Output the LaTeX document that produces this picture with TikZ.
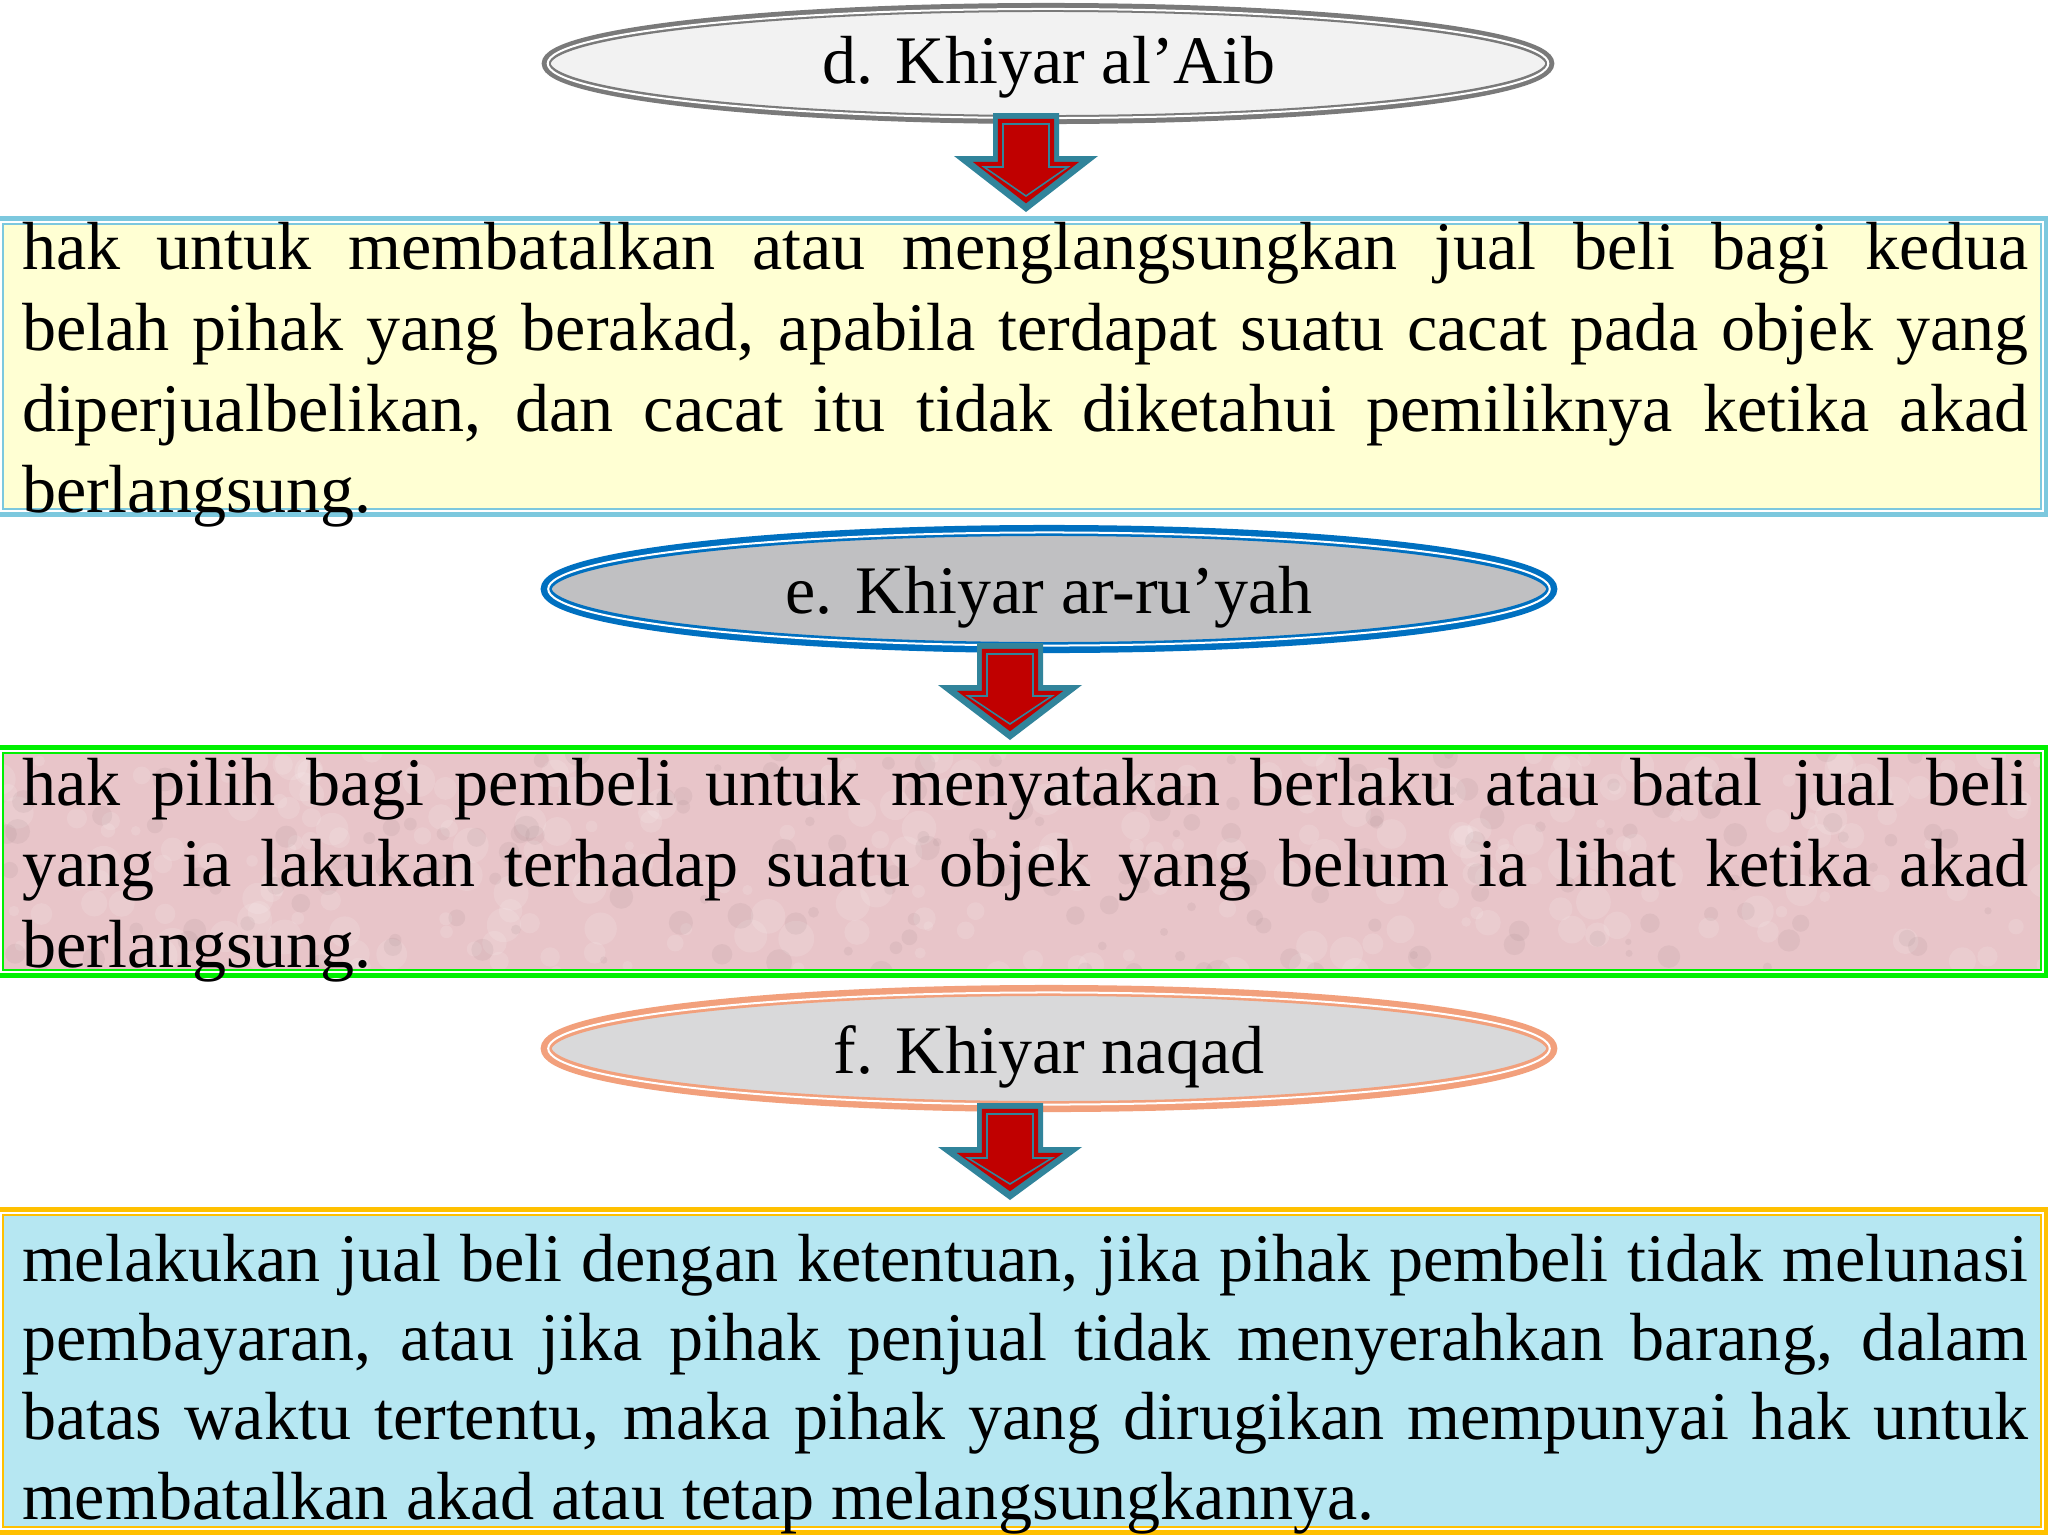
\documentclass[tikz,border=0pt]{standalone}
\usepackage{fontspec}
\setmainfont{Liberation Serif}
\usetikzlibrary{shapes.geometric}
\definecolor{arrteal}{HTML}{31849B}
\definecolor{arrred}{HTML}{C00000}
\definecolor{boxAline}{HTML}{7CC8DE}
\definecolor{boxAfill}{HTML}{FFFFD3}
\definecolor{boxBline}{HTML}{00F000}
\definecolor{boxBfill}{HTML}{E8C5C9}
\definecolor{boxCline}{HTML}{FFC000}
\definecolor{boxCfill}{HTML}{B6E7F2}
\definecolor{ellAline}{HTML}{7A7A7A}
\definecolor{ellAfill}{HTML}{F2F2F2}
\definecolor{ellBline}{HTML}{0070C0}
\definecolor{ellBfill}{HTML}{C0C0C2}
\definecolor{ellCline}{HTML}{F2A07C}
\definecolor{ellCfill}{HTML}{D9D9DA}
\tikzset{
  ellshape/.style={ellipse, inner sep=0pt, outer sep=0pt},
  boxshape/.style={rectangle, inner sep=0pt, outer sep=0pt, line width=2.56pt},
  ellthick/.style={line width=3.13pt},
  splitline/.style={white, line width=0.57pt},
  ellabel/.style={anchor=base, inner sep=0pt, font=\fontsize{19.35pt}{23pt}\selectfont},
  bodytext/.style={anchor=base west, inner sep=0pt, outer sep=0pt},
}
% block arrow: centre x, top y, y where the head starts, tip y
\newcommand\blockarr[4]{%
  \fill[arrteal] (#1-33,#2) -- (#1+33,#2) -- (#1+33,#3) -- (#1+72,#3) -- (#1,#4) -- (#1-72,#3) -- (#1-33,#3) -- cycle;
  \filldraw[fill=arrred, draw=arrred, line width=0.6pt] (#1-27,#2+7) -- (#1+27,#2+7) -- (#1+27,#3+7) -- (#1+50,#3+7) -- (#1,#4-10) -- (#1-50,#3+7) -- (#1-27,#3+7) -- cycle;
  \draw[arrteal, line width=0.45pt, line join=miter] (#1-23,#2+11) -- (#1+23,#2+11) -- (#1+23,#3+11) -- (#1+42,#3+11) -- (#1,#4-16) -- (#1-42,#3+11) -- (#1-23,#3+11) -- cycle;
}
\newcommand\jline[1]{\makebox[\linewidth][s]{#1}\\}
\begin{document}
\begin{tikzpicture}[x=0.01cm, y=-0.01cm]
\useasboundingbox (0,0) rectangle (2048,1536);
\fill[white] (0,0) rectangle (2048,1536);

% ---- ellipse d
\node[ellshape, draw=ellAline, fill=ellAfill, line width=2.56pt, minimum width=10.03cm, minimum height=1.12cm] (d) at (1048,63.5) {};
\draw[splitline] (d.center) ellipse [x radius=5.00cm, y radius=0.545cm];
\node[ellabel] (dl) at (1049,83) {d. Khiyar al’Aib};

% ---- box 1
\node[boxshape, draw=boxAline, fill=boxAfill, minimum width=20.43cm, minimum height=2.92cm] (b1) at (1022,366.5) {};
\draw[splitline] ([shift={(1.5,1.5)}]b1.north west) rectangle ([shift={(-1.5,-1.5)}]b1.south east);

% ---- ellipse e
\node[ellshape, draw=ellBline, fill=ellBfill, ellthick, minimum width=10.05cm, minimum height=1.17cm] (e) at (1049,589) {};
\draw[splitline] (e.center) ellipse [x radius=5.005cm, y radius=0.565cm];
\node[ellabel] (el) at (1049,613) {e. Khiyar ar-ru’yah};

% ---- box 2
\node[boxshape, draw=boxBline, fill=boxBfill, minimum width=20.43cm, minimum height=2.24cm] (b2) at (1022,861.5) {};
\begin{scope}
\clip (b2.north west) rectangle (b2.south east);
\pgfmathsetseed{7}
\foreach \k in {1,...,260}{
  \pgfmathsetmacro\px{rnd*2048}
  \pgfmathsetmacro\py{750+rnd*224}
  \pgfmathsetmacro\rr{4+rnd*14}
  \fill[white, opacity=0.12] (\px,\py) circle [radius=\rr*0.01cm];
}
\foreach \k in {1,...,180}{
  \pgfmathsetmacro\px{rnd*2048}
  \pgfmathsetmacro\py{750+rnd*224}
  \pgfmathsetmacro\rr{3+rnd*10}
  \fill[black!40!boxBfill, opacity=0.10] (\px,\py) circle [radius=\rr*0.01cm];
}
\end{scope}
\draw[boxBline, line width=2.56pt] (b2.north west) rectangle (b2.south east);
\draw[splitline] ([shift={(1.5,1.5)}]b2.north west) rectangle ([shift={(-1.5,-1.5)}]b2.south east);

% ---- ellipse f
\node[ellshape, draw=ellCline, fill=ellCfill, ellthick, minimum width=10.05cm, minimum height=1.16cm] (f) at (1049,1048.5) {};
\draw[splitline] (f.center) ellipse [x radius=5.005cm, y radius=0.56cm];
\node[ellabel] (fl) at (1049,1073) {f. Khiyar naqad};

% ---- box 3
\node[boxshape, draw=boxCline, fill=boxCfill, minimum width=20.43cm, minimum height=3.19cm] (b3) at (1022,1371) {};
\draw[splitline] ([shift={(1.5,1.5)}]b3.north west) rectangle ([shift={(-1.5,-1.5)}]b3.south east);

% ---- block arrows (ellipse -> box)
\blockarr{1026}{113}{156}{212}
\blockarr{1010}{643}{685}{740}
\blockarr{1010}{1103}{1147}{1200}

% ---- texts
\node[bodytext] (t1) at (22,269) {\parbox[t]{20.05cm}{\fontsize{19.37pt}{23.1pt}\selectfont
\jline{hak untuk membatalkan atau menglangsungkan jual beli bagi kedua}
\jline{belah pihak yang berakad, apabila terdapat suatu cacat pada objek yang}
\jline{diperjualbelikan, dan cacat itu tidak diketahui pemiliknya ketika akad}
berlangsung.}};

\node[bodytext] (t2) at (22,805) {\parbox[t]{20.05cm}{\fontsize{19.37pt}{23.05pt}\selectfont
\jline{hak pilih bagi pembeli untuk menyatakan berlaku atau batal jual beli}
\jline{yang ia lakukan terhadap suatu objek yang belum ia lihat ketika akad}
berlangsung.}};

\node[bodytext] (t3) at (22,1281) {\parbox[t]{20.05cm}{\fontsize{19.37pt}{22.6pt}\selectfont
\jline{melakukan jual beli dengan ketentuan, jika pihak pembeli tidak melunasi}
\jline{pembayaran, atau jika pihak penjual tidak menyerahkan barang, dalam}
\jline{batas waktu tertentu, maka pihak yang dirugikan mempunyai hak untuk}
membatalkan akad atau tetap melangsungkannya.}};
\end{tikzpicture}
\end{document}
